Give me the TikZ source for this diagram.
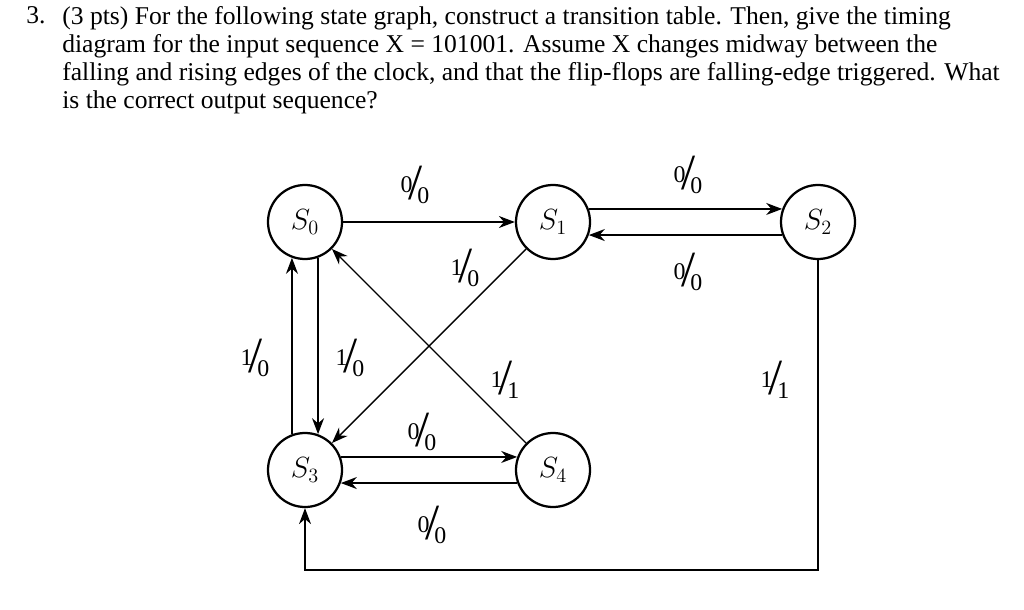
\documentclass[tikz,border=0pt]{standalone}
\usepackage{fontspec}
\setmainfont{Liberation Serif}
\usetikzlibrary{arrows.meta}
\newcommand{\frc}[2]{\raisebox{1.1ex}{\fontsize{17}{17}\selectfont#1}\kern-.3em{\fontsize{36}{36}\selectfont/}\kern-.35em\raisebox{-.7ex}{\fontsize{17}{17}\selectfont#2}}
\tikzset{
	state/.style={circle,draw,line width=1.6pt,minimum size=1.85cm,inner sep=0pt,font=\fontsize{20}{20}\selectfont},
	edge/.style={line width=1pt,-{Stealth[length=4mm,width=3mm]}},
	lbl/.style={inner sep=0pt}
}
\begin{document}
\begin{tikzpicture}[x=0.025cm,y=-0.025cm]
	\useasboundingbox (0,0) rectangle (1024,610);
	\node[anchor=north west,inner sep=0pt,font=\fontsize{18.2}{20}\selectfont] at (26,6) {3.};
	\node[anchor=north west,inner sep=0pt,align=left,font=\fontsize{18.2}{20}\selectfont] (q) at (62,6)
	{(3 pts) For the following state graph, construct a transition table. Then, give the timing\\
	diagram for the input sequence X = 101001. Assume X changes midway between the\\
	falling and rising edges of the clock, and that the flip-flops are falling-edge triggered. What\\
	is the correct output sequence?};
	\node[state] (s0) at (305,222) {$S_0$};
	\node[state] (s1) at (553,222) {$S_1$};
	\node[state] (s2) at (818,222) {$S_2$};
	\node[state] (s3) at (305,470) {$S_3$};
	\node[state] (s4) at (553,470) {$S_4$};
	\draw[edge] (s0) -- (s1);
	\draw[edge] (s1.20) -- (s2.160);
	\draw[edge] (s2.200) -- (s1.340);
	\draw[edge] (s3.20) -- (s4.160);
	\draw[edge] (s4.200) -- (s3.340);
	\draw[edge] (s0.290) -- (s3.70);
	\draw[edge] (s3.110) -- (s0.250);
	\draw[edge] (s1.225) -- (s3.45);
	\draw[edge] (s4.135) -- (s0.315);
	\coordinate (c1) at (818,570);
	\coordinate (c2) at (305,570);
	\draw[edge] (s2.south) -- (c1) -- (c2) -- (s3.south);
	\node[lbl] at (415,185) {\frc{0}{0}};
	\node[lbl] at (688,175) {\frc{0}{0}};
	\node[lbl] at (688,272) {\frc{0}{0}};
	\node[lbl] at (465,268) {\frc{1}{0}};
	\node[lbl] at (255,358) {\frc{1}{0}};
	\node[lbl] at (350,358) {\frc{1}{0}};
	\node[lbl] at (505,380) {\frc{1}{1}};
	\node[lbl] at (775,380) {\frc{1}{1}};
	\node[lbl] at (422,432) {\frc{0}{0}};
	\node[lbl] at (432,525) {\frc{0}{0}};
\end{tikzpicture}
\end{document}
